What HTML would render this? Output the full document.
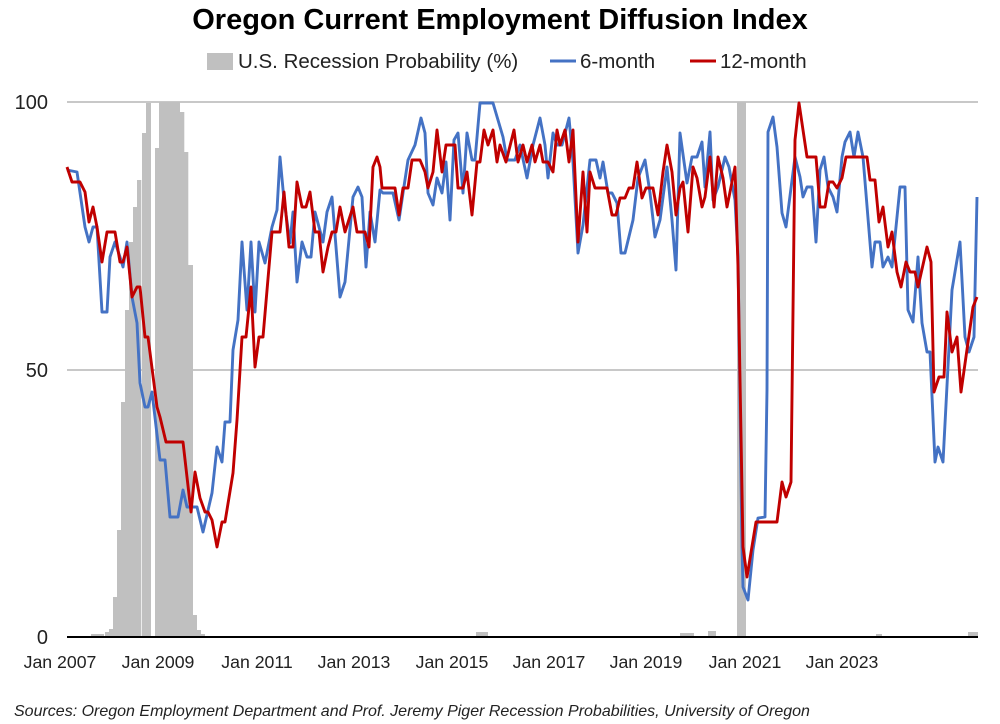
<!DOCTYPE html>
<html><head><meta charset="utf-8"><style>
body{margin:0;background:#fff;}
svg{display:block;font-family:"Liberation Sans",Arial,sans-serif;}
</style></head><body>
<svg width="1000" height="724" viewBox="0 0 1000 724" xmlns="http://www.w3.org/2000/svg">
<rect width="1000" height="724" fill="#fff"/>
<text x="500" y="29" text-anchor="middle" font-size="29" font-weight="bold" fill="#000">Oregon Current Employment Diffusion Index</text>
<rect x="207" y="53" width="26" height="17" fill="#c0c0c0"/>
<text x="238" y="68" font-size="20.5" fill="#222">U.S. Recession Probability (%)</text>
<line x1="550" y1="61" x2="576" y2="61" stroke="#4472c4" stroke-width="3"/>
<text x="580" y="68" font-size="20.5" fill="#222">6-month</text>
<line x1="690" y1="61" x2="716" y2="61" stroke="#c00000" stroke-width="3"/>
<text x="720" y="68" font-size="20.5" fill="#222">12-month</text>
<line x1="67" y1="102" x2="978" y2="102" stroke="#c8c8c8" stroke-width="2"/>
<line x1="67" y1="370" x2="978" y2="370" stroke="#c8c8c8" stroke-width="2"/>
<g fill="#c0c0c0">
<rect x="91" y="634" width="13" height="3"/>
<rect x="105" y="632" width="4" height="5"/>
<rect x="109" y="629" width="4" height="8"/>
<rect x="113" y="597" width="4.3" height="40"/>
<rect x="117" y="530" width="4.3" height="107"/>
<rect x="121" y="402" width="4.3" height="235"/>
<rect x="125" y="310" width="4.3" height="327"/>
<rect x="129" y="242" width="4.3" height="395"/>
<rect x="133" y="207" width="4.3" height="430"/>
<rect x="137" y="180" width="4.3" height="457"/>
<rect x="142" y="133" width="4.3" height="504"/>
<rect x="146" y="103" width="5" height="534"/>
<rect x="155" y="148" width="4" height="489"/>
<rect x="159" y="102" width="21" height="535"/>
<rect x="180" y="112" width="4.3" height="525"/>
<rect x="184" y="152" width="4.3" height="485"/>
<rect x="188" y="265" width="5" height="372"/>
<rect x="193" y="615" width="4" height="22"/>
<rect x="197" y="630" width="4" height="7"/>
<rect x="201" y="634" width="4" height="3"/>
<rect x="737" y="102" width="9" height="535"/>
<rect x="476" y="632" width="12" height="5"/>
<rect x="680" y="633" width="14" height="4"/>
<rect x="708" y="631" width="8" height="6"/>
<rect x="876" y="634" width="6" height="3"/>
<rect x="968" y="632" width="10" height="5"/>
</g>
<polyline fill="none" stroke="#4472c4" stroke-width="2.9" stroke-linejoin="round" points="67,170 77,172 85,227 89,242 93,227 97,227 102,312 107,312 110,257 115,242 120,257 123,267 127,242 132,297 137,323 140,383 145,407 148,407 152,392 160,460 165,460 170,517 178,517 183,490 187,507 197,507 203,532 212,493 217,447 222,462 225,422 230,422 233,350 238,320 242,242 247,310 251,242 255,312 259,242 265,263 272,227 277,210 280,157 284,200 290,243 293,212 297,282 302,242 307,257 311,257 315,212 323,242 327,212 332,197 336,247 340,297 345,282 353,197 358,187 362,197 366,267 370,212 375,242 380,190 383,193 393,193 399,220 403,193 408,160 415,145 421,118 425,133 428,193 433,205 437,178 442,193 446,162 450,220 454,140 458,133 463,193 467,133 472,160 475,160 480,103 493,103 503,137 507,160 515,160 520,145 527,178 533,145 540,118 545,145 548,178 553,133 557,145 562,145 569,118 573,162 578,253 583,225 590,160 596,160 600,178 603,162 608,193 612,193 617,203 621,253 625,253 633,220 638,178 645,160 650,193 655,237 660,220 667,167 672,220 676,270 680,133 687,183 692,157 697,157 702,142 705,187 710,132 713,200 718,187 725,157 729,167 735,200 738,257 742,547 743,587 748,600 753,550 758,518 765,517 767,390 768,132 773,117 777,147 782,213 786,227 795,157 800,177 803,197 807,187 812,187 816,242 820,170 824,157 828,187 833,197 837,212 842,157 845,142 850,132 854,157 858,132 863,157 872,267 875,242 880,242 883,267 888,257 892,267 900,187 905,187 908,310 913,322 918,257 922,323 927,352 930,352 935,462 938,447 943,462 952,290 960,242 965,337 969,352 974,337 977,197"/>
<polyline fill="none" stroke="#c00000" stroke-width="2.9" stroke-linejoin="round" points="67,167 72,182 80,182 85,192 89,222 93,207 97,227 102,262 107,232 115,232 120,262 123,262 127,247 132,297 137,287 140,287 145,337 148,337 157,407 160,417 166,442 183,442 191,512 195,472 200,498 205,512 208,512 212,520 217,547 222,522 225,522 233,473 237,420 242,337 246,337 251,287 255,367 259,337 263,337 272,232 280,232 284,192 289,247 293,247 297,182 302,207 306,207 310,192 315,232 319,232 323,272 328,247 332,232 336,232 340,207 345,232 353,207 357,232 365,232 369,247 373,167 377,157 380,167 382,188 395,188 399,215 403,188 408,188 412,160 420,160 425,172 428,188 433,172 437,130 442,172 446,145 455,145 458,188 463,188 467,172 472,215 477,162 480,162 484,130 488,145 493,130 497,162 500,145 506,162 514,130 518,162 523,145 527,162 532,145 535,162 540,145 543,162 548,162 553,172 557,130 560,145 565,130 569,162 573,130 578,242 583,172 587,232 590,172 595,188 607,188 612,215 616,215 620,198 625,198 629,188 633,188 637,162 642,198 646,188 653,188 658,215 663,172 667,145 672,172 676,215 680,188 683,182 688,232 693,167 697,178 702,207 705,197 710,157 714,207 718,157 723,178 727,207 735,167 738,267 743,547 747,577 756,522 777,522 782,482 786,497 791,482 795,140 799,103 807,157 816,157 820,207 825,207 829,182 833,182 837,188 842,178 846,157 867,157 870,180 875,180 879,222 883,207 888,247 892,232 897,272 901,287 906,262 910,272 915,272 918,287 927,247 931,262 934,392 939,377 944,377 947,312 952,352 957,337 961,392 973,307 977,297"/>
<line x1="67" y1="637" x2="978" y2="637" stroke="#000" stroke-width="2"/>
<g font-size="20" fill="#222">
<text x="48" y="109" text-anchor="end">100</text>
<text x="48" y="377" text-anchor="end">50</text>
<text x="48" y="644" text-anchor="end">0</text>
</g>
<g font-size="17.7" fill="#222" text-anchor="middle">
<text x="60" y="668">Jan 2007</text>
<text x="158" y="668">Jan 2009</text>
<text x="257" y="668">Jan 2011</text>
<text x="354" y="668">Jan 2013</text>
<text x="452" y="668">Jan 2015</text>
<text x="549" y="668">Jan 2017</text>
<text x="646" y="668">Jan 2019</text>
<text x="745" y="668">Jan 2021</text>
<text x="842" y="668">Jan 2023</text>
</g>
<text x="14" y="716" font-size="16" font-style="italic" fill="#222">Sources: Oregon Employment Department and Prof. Jeremy Piger Recession Probabilities, University of Oregon</text>
</svg>
</body></html>
